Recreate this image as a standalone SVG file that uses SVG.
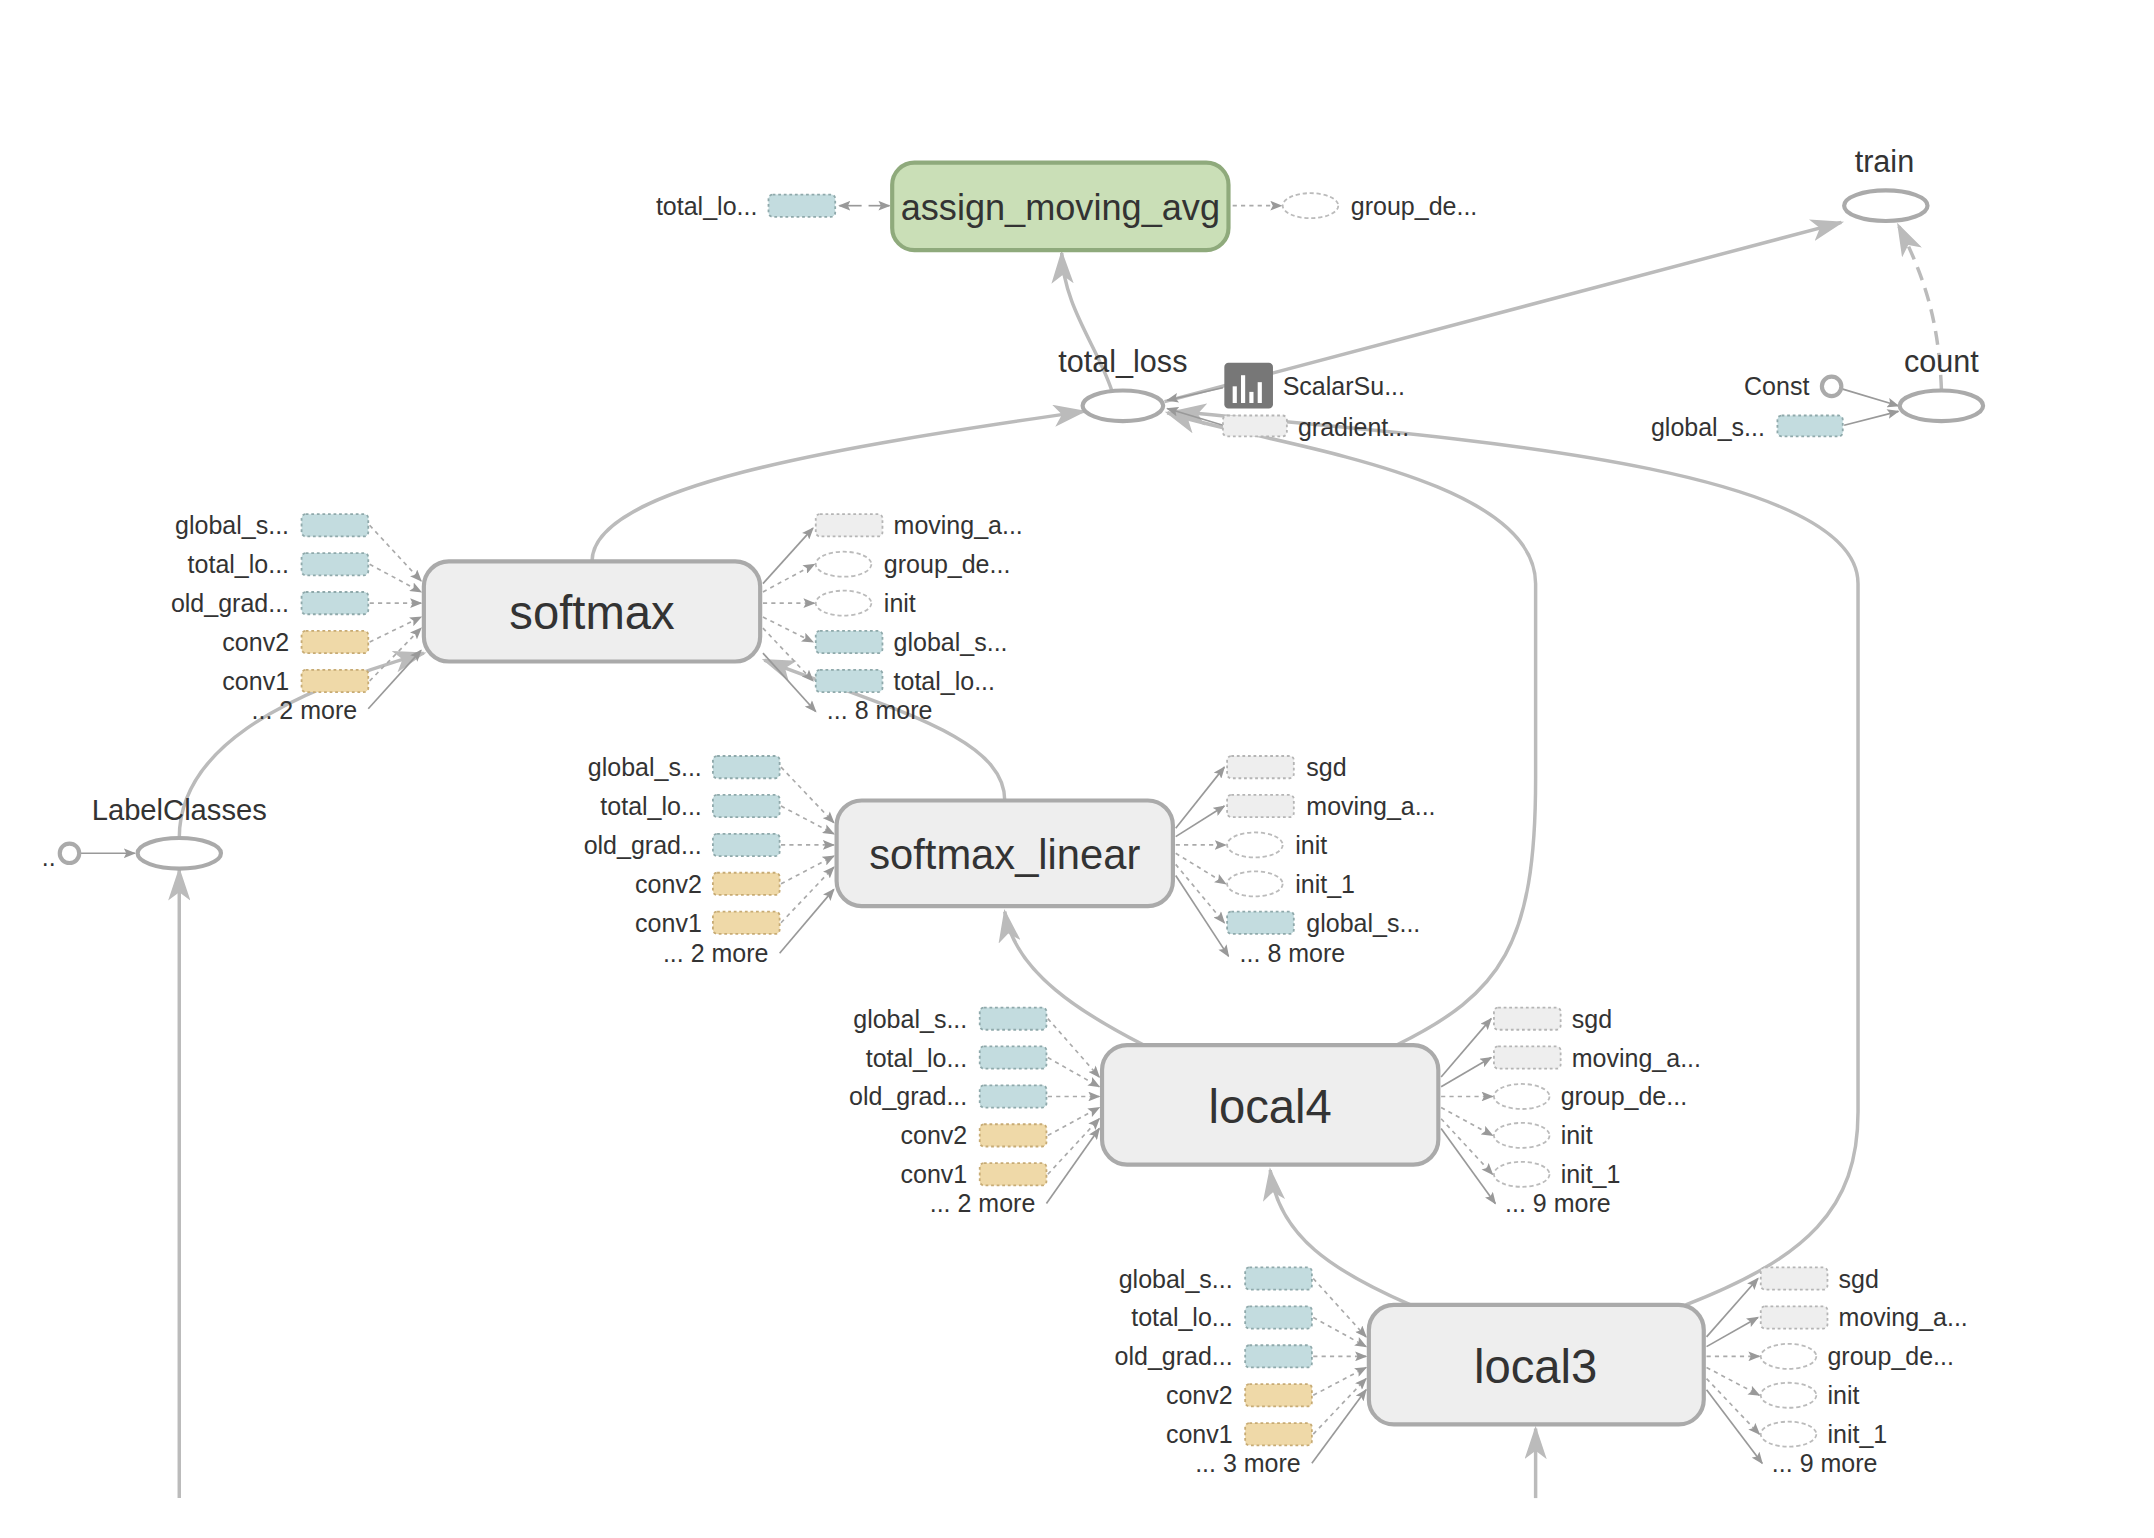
<svg xmlns="http://www.w3.org/2000/svg" width="2154" height="1538" viewBox="0 0 2154 1538">
<style>
text{font-family:"Liberation Sans",Arial,sans-serif;fill:#333;dominant-baseline:central}
.l{font-size:18px}.e{text-anchor:end}.m{text-anchor:middle}
.vb{fill:#c3dcdf;stroke:#8fa9ab;stroke-width:1.3;stroke-dasharray:2 2}
.vt{fill:#efd9a8;stroke:#c7ab74;stroke-width:1.3;stroke-dasharray:2 2}
.vg{fill:#eeeeee;stroke:#b5b5b5;stroke-width:1.3;stroke-dasharray:2 2}
.el{fill:#fff;stroke:#bbb;stroke-width:1.3;stroke-dasharray:3 2}
.op{fill:#fff;stroke:#aaa;stroke-width:3}
.box{fill:#eeeeee;stroke:#aaa;stroke-width:3}
.de{fill:none;stroke:#aaa;stroke-width:1.2;stroke-dasharray:3 3;marker-end:url(#s)}
.so{fill:none;stroke:#999;stroke-width:1.2;marker-end:url(#s)}
.me{fill:none;stroke:#bbb;stroke-width:2.5;marker-end:url(#b)}
</style>
<defs>
<marker id="b" viewBox="0 0 24 16" markerWidth="24" markerHeight="16" refX="22" refY="8" orient="auto" markerUnits="userSpaceOnUse"><path d="M0,0 L24,8 L0,16 L6,8z" fill="#bbb"/></marker>
<marker id="s" viewBox="0 0 10 8" markerWidth="9" markerHeight="7" refX="9" refY="4" orient="auto" markerUnits="userSpaceOnUse"><path d="M0,0 L10,4 L0,8 L2,4z" fill="#999"/></marker>
</defs>
<rect width="2154" height="1538" fill="#fff"/>
<g transform="scale(1.3897)">
<g id="connectors">
<path class="me" d="M800,281 C790,250 765,220 764,182"/>
<path class="me" d="M838,289 L1325,160"/>
<path class="me" d="M1397,280 C1395,230 1385,200 1366,162" stroke-dasharray="10 6"/>
<path class="so" d="M1326,280 L1366,292"/>
<path class="so" d="M1327,306 L1366,296"/>
<path class="me" d="M426,404 C426,350 600,322 780,296"/>
<path class="me" d="M129,603 C129,540 200,500 305,470"/>
<path class="me" d="M129,1078 L129,626"/>
<path class="so" d="M58,614 L97,614"/>
<path class="me" d="M723,576 C723,530 640,510 550,475"/>
<path class="me" d="M823,752 C780,730 730,700 723,656"/>
<path class="me" d="M1005,752 C1080,715 1105,680 1105,560 L1105,420 C1105,340 900,318 840,297"/>
<path class="me" d="M1015,939 C960,915 920,890 914,842"/>
<path class="me" d="M1213,939 C1300,905 1337,870 1337,800 L1337,420 C1337,330 1000,312 846,296"/>
<path class="me" d="M1105,1078 L1105,1028"/>
<path class="so" d="M625,148 L640,148"/><path class="so" d="M620,148 L604,148"/>
<path class="de" d="M887,148 L922,148"/>
<path class="so" d="M880,279 L840,288"/><path class="so" d="M880,306 L840,294"/>
</g>
<g id="assign_moving_avg">
<rect x="642" y="117" width="242" height="63" rx="16" fill="#cadfb7" stroke="#8faa7c" stroke-width="3"/>
<text x="763" y="149" class="m" font-size="26">assign_moving_avg</text>
<text x="545" y="148" class="l e">total_lo...</text><rect x="553" y="140" width="48" height="16" rx="3" class="vb"/>
<ellipse cx="943" cy="148" rx="20" ry="9" class="el"/><text x="972" y="148" class="l">group_de...</text>
</g>
<g id="train"><text x="1356" y="116" class="m" font-size="22">train</text><ellipse cx="1357" cy="148" rx="30" ry="11" class="op"/></g>
<g id="total_loss"><text x="808" y="260" class="m" font-size="22">total_loss</text><ellipse cx="808" cy="292" rx="29" ry="11" class="op"/>
<rect x="881" y="261" width="35" height="33" rx="3" fill="#777"/>
<rect x="887" y="278" width="3" height="12" fill="#fff"/><rect x="893" y="270" width="3" height="20" fill="#fff"/><rect x="899" y="282" width="3" height="8" fill="#fff"/><rect x="905" y="275" width="3" height="15" fill="#fff"/>
<text x="923" y="278" class="l">ScalarSu...</text>
<rect x="880" y="299" width="46" height="15" rx="3" class="vg"/><text x="934" y="307" class="l">gradient...</text></g>
<g id="count"><text x="1397" y="260" class="m" font-size="22">count</text><ellipse cx="1397" cy="292" rx="30" ry="11" class="op"/>
<text x="1302" y="278" class="l e">Const</text><circle cx="1318" cy="278" r="7" class="op"/>
<text x="1270" y="307" class="l e">global_s...</text><rect x="1279" y="299" width="47" height="15" rx="3" class="vb"/></g>
<g id="LabelClasses"><text x="129" y="583" class="m" font-size="21">LabelClasses</text><ellipse cx="129" cy="614" rx="30" ry="11" class="op"/>
<text x="30" y="617" class="l">..</text><circle cx="50" cy="614" r="7" class="op"/></g>

<g id="softmax">
<rect x="305" y="404" width="242" height="72" rx="18" class="box"/><text x="426" y="441" class="m" font-size="34">softmax</text>
<text x="208" y="378" class="l e">global_s...</text><rect x="217" y="370" width="48" height="16" rx="3" class="vb"/>
<text x="208" y="406" class="l e">total_lo...</text><rect x="217" y="398" width="48" height="16" rx="3" class="vb"/>
<text x="208" y="434" class="l e">old_grad...</text><rect x="217" y="426" width="48" height="16" rx="3" class="vb"/>
<text x="265" y="462" class="l e" dx="-57">conv2</text><rect x="217" y="454" width="48" height="16" rx="3" class="vt"/>
<text x="208" y="490" class="l e">conv1</text><rect x="217" y="482" width="48" height="16" rx="3" class="vt"/>
<text x="257" y="511" class="l e">... 2 more</text>
<path class="de" d="M266,378 L303,418"/><path class="de" d="M266,406 L303,426"/><path class="de" d="M266,434 L303,434"/><path class="de" d="M266,462 L303,444"/><path class="de" d="M266,490 L303,452"/><path class="so" d="M265,510 L303,468"/>
<rect x="587" y="370" width="48" height="16" rx="3" class="vg"/><text x="643" y="378" class="l">moving_a...</text>
<ellipse cx="607" cy="406" rx="20" ry="9" class="el"/><text x="636" y="406" class="l">group_de...</text>
<ellipse cx="607" cy="434" rx="20" ry="9" class="el"/><text x="636" y="434" class="l">init</text>
<rect x="587" y="454" width="48" height="16" rx="3" class="vb"/><text x="643" y="462" class="l">global_s...</text>
<rect x="587" y="482" width="48" height="16" rx="3" class="vb"/><text x="643" y="490" class="l">total_lo...</text>
<text x="595" y="511" class="l">... 8 more</text>
<path class="so" d="M549,420 L585,380"/><path class="de" d="M549,426 L586,406"/><path class="de" d="M549,434 L586,434"/><path class="de" d="M549,444 L585,462"/><path class="de" d="M549,452 L585,490"/><path class="so" d="M549,470 L587,512"/>
</g>

<g id="softmax_linear">
<rect x="602" y="576" width="242" height="76" rx="18" class="box"/><text x="723" y="615" class="m" font-size="30">softmax_linear</text>
<text x="505" y="552" class="l e">global_s...</text><rect x="513" y="544" width="48" height="16" rx="3" class="vb"/>
<text x="505" y="580" class="l e">total_lo...</text><rect x="513" y="572" width="48" height="16" rx="3" class="vb"/>
<text x="505" y="608" class="l e">old_grad...</text><rect x="513" y="600" width="48" height="16" rx="3" class="vb"/>
<text x="505" y="636" class="l e">conv2</text><rect x="513" y="628" width="48" height="16" rx="3" class="vt"/>
<text x="505" y="664" class="l e">conv1</text><rect x="513" y="656" width="48" height="16" rx="3" class="vt"/>
<text x="553" y="686" class="l e">... 2 more</text>
<path class="de" d="M562,552 L600,592"/><path class="de" d="M562,580 L600,600"/><path class="de" d="M562,608 L600,608"/><path class="de" d="M562,636 L600,616"/><path class="de" d="M562,664 L600,624"/><path class="so" d="M561,686 L600,640"/>
<rect x="883" y="544" width="48" height="16" rx="3" class="vg"/><text x="940" y="552" class="l">sgd</text>
<rect x="883" y="572" width="48" height="16" rx="3" class="vg"/><text x="940" y="580" class="l">moving_a...</text>
<ellipse cx="903" cy="608" rx="20" ry="9" class="el"/><text x="932" y="608" class="l">init</text>
<ellipse cx="903" cy="636" rx="20" ry="9" class="el"/><text x="932" y="636" class="l">init_1</text>
<rect x="883" y="656" width="48" height="16" rx="3" class="vb"/><text x="940" y="664" class="l">global_s...</text>
<text x="892" y="686" class="l">... 8 more</text>
<path class="so" d="M846,596 L881,552"/><path class="so" d="M846,602 L881,580"/><path class="de" d="M846,608 L882,608"/><path class="de" d="M846,614 L882,636"/><path class="de" d="M846,622 L881,664"/><path class="so" d="M846,630 L884,688"/>
</g>

<g id="local4">
<rect x="793" y="752" width="242" height="86" rx="18" class="box"/><text x="914" y="796" class="m" font-size="34">local4</text>
<text x="696" y="733" class="l e">global_s...</text><rect x="705" y="725" width="48" height="16" rx="3" class="vb"/>
<text x="696" y="761" class="l e">total_lo...</text><rect x="705" y="753" width="48" height="16" rx="3" class="vb"/>
<text x="696" y="789" class="l e">old_grad...</text><rect x="705" y="781" width="48" height="16" rx="3" class="vb"/>
<text x="696" y="817" class="l e">conv2</text><rect x="705" y="809" width="48" height="16" rx="3" class="vt"/>
<text x="696" y="845" class="l e">conv1</text><rect x="705" y="837" width="48" height="16" rx="3" class="vt"/>
<text x="745" y="866" class="l e">... 2 more</text>
<path class="de" d="M754,733 L791,775"/><path class="de" d="M754,761 L791,782"/><path class="de" d="M754,789 L791,789"/><path class="de" d="M754,817 L791,797"/><path class="de" d="M754,845 L791,805"/><path class="so" d="M753,866 L791,812"/>
<rect x="1075" y="725" width="48" height="16" rx="3" class="vg"/><text x="1131" y="733" class="l">sgd</text>
<rect x="1075" y="753" width="48" height="16" rx="3" class="vg"/><text x="1131" y="761" class="l">moving_a...</text>
<ellipse cx="1095" cy="789" rx="20" ry="9" class="el"/><text x="1123" y="789" class="l">group_de...</text>
<ellipse cx="1095" cy="817" rx="20" ry="9" class="el"/><text x="1123" y="817" class="l">init</text>
<ellipse cx="1095" cy="845" rx="20" ry="9" class="el"/><text x="1123" y="845" class="l">init_1</text>
<text x="1083" y="866" class="l">... 9 more</text>
<path class="so" d="M1037,775 L1073,733"/><path class="so" d="M1037,782 L1073,761"/><path class="de" d="M1037,789 L1074,789"/><path class="de" d="M1037,797 L1074,817"/><path class="de" d="M1037,805 L1074,845"/><path class="so" d="M1037,812 L1076,866"/>
</g>

<g id="local3">
<rect x="985" y="939" width="241" height="86" rx="18" class="box"/><text x="1105" y="983" class="m" font-size="34">local3</text>
<text x="887" y="920" class="l e">global_s...</text><rect x="896" y="912" width="48" height="16" rx="3" class="vb"/>
<text x="887" y="948" class="l e">total_lo...</text><rect x="896" y="940" width="48" height="16" rx="3" class="vb"/>
<text x="887" y="976" class="l e">old_grad...</text><rect x="896" y="968" width="48" height="16" rx="3" class="vb"/>
<text x="887" y="1004" class="l e">conv2</text><rect x="896" y="996" width="48" height="16" rx="3" class="vt"/>
<text x="887" y="1032" class="l e">conv1</text><rect x="896" y="1024" width="48" height="16" rx="3" class="vt"/>
<text x="936" y="1053" class="l e">... 3 more</text>
<path class="de" d="M945,920 L983,962"/><path class="de" d="M945,948 L983,969"/><path class="de" d="M945,976 L983,976"/><path class="de" d="M945,1004 L983,984"/><path class="de" d="M945,1032 L983,992"/><path class="so" d="M944,1053 L983,1000"/>
<rect x="1267" y="912" width="48" height="16" rx="3" class="vg"/><text x="1323" y="920" class="l">sgd</text>
<rect x="1267" y="940" width="48" height="16" rx="3" class="vg"/><text x="1323" y="948" class="l">moving_a...</text>
<ellipse cx="1287" cy="976" rx="20" ry="9" class="el"/><text x="1315" y="976" class="l">group_de...</text>
<ellipse cx="1287" cy="1004" rx="20" ry="9" class="el"/><text x="1315" y="1004" class="l">init</text>
<ellipse cx="1287" cy="1032" rx="20" ry="9" class="el"/><text x="1315" y="1032" class="l">init_1</text>
<text x="1275" y="1053" class="l">... 9 more</text>
<path class="so" d="M1228,962 L1265,920"/><path class="so" d="M1228,969 L1265,948"/><path class="de" d="M1228,976 L1266,976"/><path class="de" d="M1228,984 L1266,1004"/><path class="de" d="M1228,992 L1266,1032"/><path class="so" d="M1228,1000 L1268,1053"/>
</g>
</g>
</svg>
